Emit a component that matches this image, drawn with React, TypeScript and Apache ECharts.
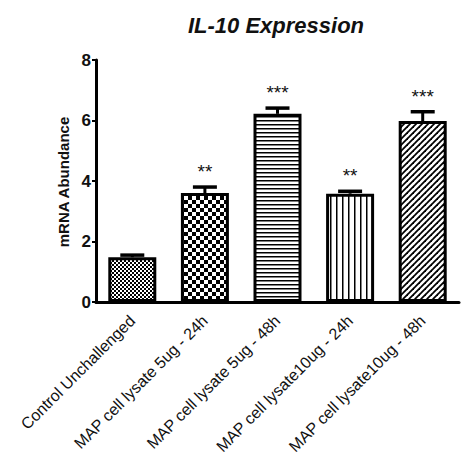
import React, { useEffect, useRef } from "react";
import * as echarts from "echarts";

// Group labels, mean mRNA abundance, SEM and significance marks
const categories = [
  "Control Unchallenged",
  "MAP cell lysate 5ug - 24h",
  "MAP cell lysate 5ug - 48h",
  "MAP cell lysate10ug - 24h",
  "MAP cell lysate10ug - 48h",
];
const means = [1.48, 3.6, 6.22, 3.58, 5.98];
const sem = [0.07, 0.2, 0.19, 0.08, 0.31];
const stars = ["", "**", "***", "**", "***"];
const fillKinds = ["fineCheck", "check", "hlines", "vlines", "diagonal"];
const yTicks = [0, 2, 4, 6, 8];

const FONT = "'Liberation Sans', Arial, sans-serif";

function makePattern(kind: string): HTMLCanvasElement {
  const c = document.createElement("canvas");
  const ctx = c.getContext("2d") as CanvasRenderingContext2D;
  const init = (w: number, h: number) => {
    c.width = w;
    c.height = h;
    ctx.fillStyle = "#fff";
    ctx.fillRect(0, 0, w, h);
    ctx.fillStyle = "#000";
    ctx.strokeStyle = "#000";
  };
  if (kind === "fineCheck") {
    init(4, 4);
    ctx.fillRect(0, 0, 2, 2);
    ctx.fillRect(2, 2, 2, 2);
  } else if (kind === "check") {
    init(8, 8);
    ctx.fillRect(0, 0, 4, 4);
    ctx.fillRect(4, 4, 4, 4);
  } else if (kind === "hlines") {
    init(4, 4);
    ctx.fillRect(0, 0, 4, 1.5);
  } else if (kind === "vlines") {
    init(6, 6);
    ctx.fillRect(0, 0, 1.5, 6);
  } else {
    init(6, 6);
    ctx.lineWidth = 1.8;
    for (let k = -1; k <= 1; k++) {
      ctx.beginPath();
      ctx.moveTo(k * 6 - 1, 7);
      ctx.lineTo(k * 6 + 7, -1);
      ctx.stroke();
    }
  }
  return c;
}

export default function App() {
  const ref = useRef<HTMLDivElement>(null);

  useEffect(() => {
    if (!ref.current) return;
    const chart = echarts.init(ref.current, undefined, { renderer: "svg" });

    const barData = means.map((v, i) => ({
      value: v,
      itemStyle: {
        color: { image: makePattern(fillKinds[i]), repeat: "repeat" },
        borderColor: "#000",
        borderWidth: 3,
      },
    }));

    const errData = means.map((v, i) => [i, v, v + sem[i]]);

    chart.setOption({
      animation: false,
      backgroundColor: "#fff",
      grid: {
        left: 96,
        right: 15,
        top: 60,
        bottom: 160,
        containLabel: false,
        outerBoundsMode: "none",
      },
      graphic: [
        {
          type: "text",
          x: 276,
          y: 25,
          style: {
            text: "IL-10 Expression",
            fontFamily: FONT,
            fontSize: 22,
            fontWeight: "bold",
            fontStyle: "italic",
            fill: "#111",
            textAlign: "center",
            textVerticalAlign: "middle",
          },
        },
        {
          type: "text",
          x: 63,
          y: 182,
          rotation: Math.PI / 2,
          style: {
            text: "mRNA Abundance",
            fontFamily: FONT,
            fontSize: 15,
            fontWeight: "bold",
            fill: "#111",
            textAlign: "center",
            textVerticalAlign: "middle",
          },
        },
      ],
      xAxis: {
        type: "category",
        data: categories,
        axisLine: { lineStyle: { color: "#000", width: 3 } },
        axisTick: {
          alignWithLabel: true,
          length: 6,
          lineStyle: { color: "#000", width: 2 },
        },
        axisLabel: {
          rotate: 45,
          interval: 0,
          margin: 16,
          fontFamily: FONT,
          fontSize: 16,
          color: "#111",
        },
      },
      yAxis: {
        type: "value",
        min: yTicks[0],
        max: yTicks[yTicks.length - 1],
        interval: 2,
        splitLine: { show: false },
        axisLine: { show: true, lineStyle: { color: "#000", width: 3 } },
        axisTick: { show: true, length: 4, lineStyle: { color: "#000", width: 2 } },
        axisLabel: {
          margin: 5,
          fontFamily: FONT,
          fontSize: 17,
          fontWeight: "bold",
          color: "#111",
        },
      },
      series: [
        {
          type: "bar",
          data: barData,
          barWidth: 48,
          z: 2,
        },
        {
          type: "custom",
          data: errData,
          z: 3,
          renderItem: (params: any, api: any) => {
            const x = api.value(0);
            const base = api.coord([x, api.value(1)]);
            const top = api.coord([x, api.value(2)]);
            const half = 12;
            const children: any[] = [
              {
                type: "line",
                shape: { x1: base[0], y1: base[1], x2: top[0], y2: top[1] },
                style: { stroke: "#000", lineWidth: 3 },
              },
              {
                type: "line",
                shape: { x1: top[0] - half, y1: top[1], x2: top[0] + half, y2: top[1] },
                style: { stroke: "#000", lineWidth: 3.5 },
              },
            ];
            const mark = stars[params.dataIndex];
            if (mark) {
              children.push({
                type: "text",
                x: top[0],
                y: top[1] - 6,
                style: {
                  text: mark,
                  fontFamily: FONT,
                  fontSize: 19,
                  fill: "#111",
                  textAlign: "center",
                  textVerticalAlign: "bottom",
                },
              });
            }
            return { type: "group", children };
          },
        },
      ],
    });

    return () => chart.dispose();
  }, []);

  return (
    <div
      ref={ref}
      style={{ position: "fixed", left: 0, top: 0, width: 474, height: 462 }}
    />
  );
}
